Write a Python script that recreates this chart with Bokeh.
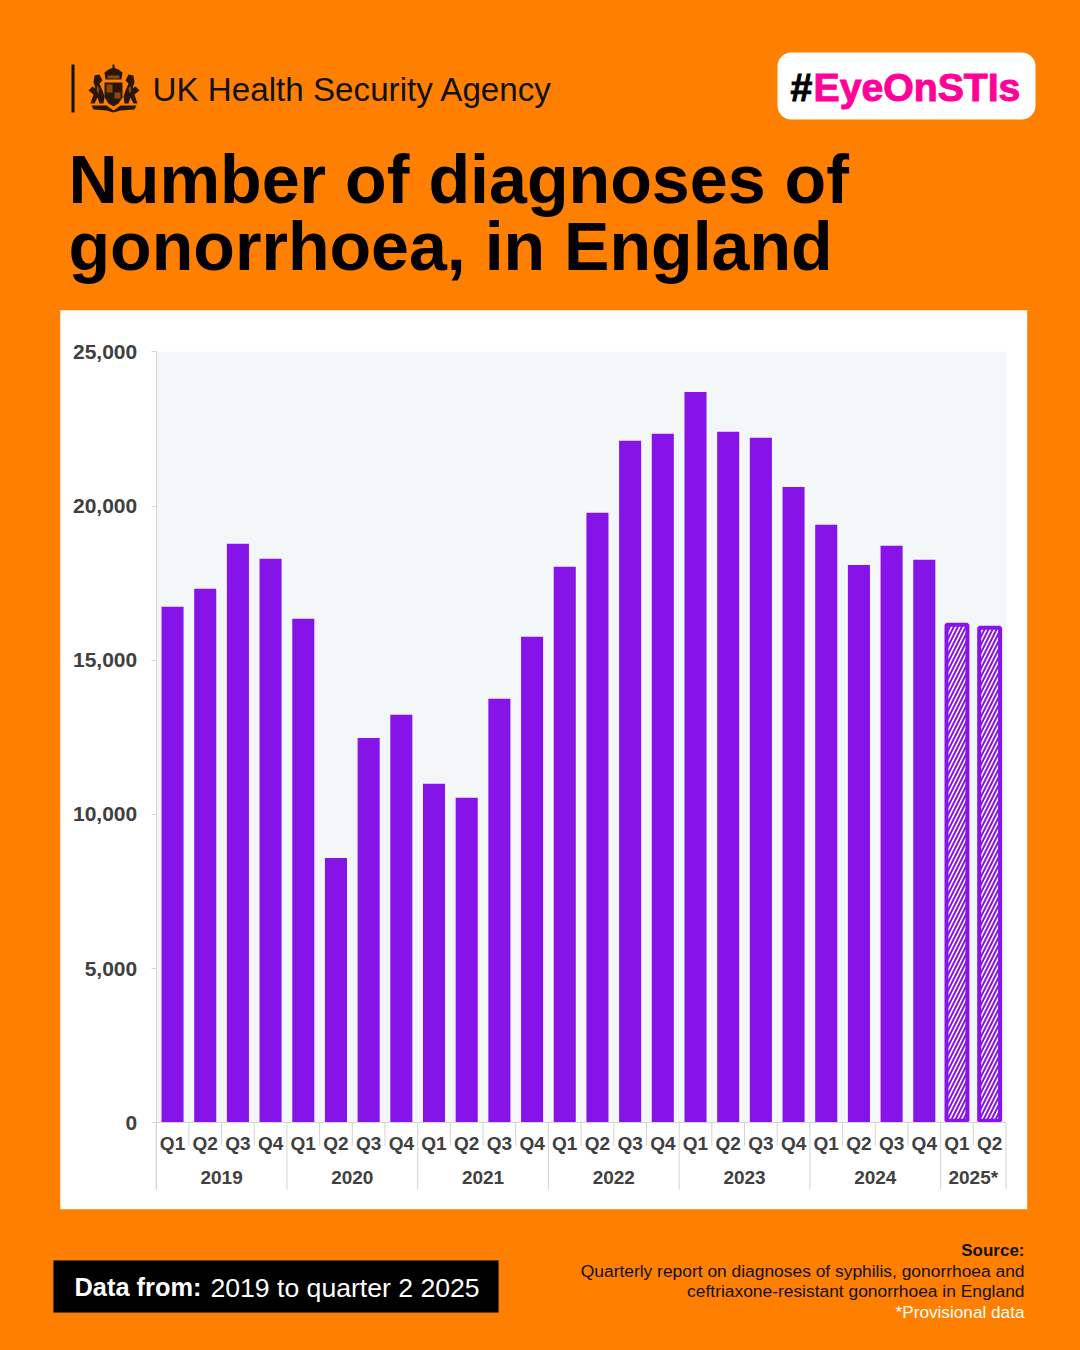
from bokeh.plotting import figure
from bokeh.models import BoxAnnotation, Label, Range1d, FixedTicker, NumeralTickFormatter, LinearAxis, PolyAnnotation
from bokeh.core.properties import value
from bokeh.embed import file_html
from bokeh.resources import INLINE

years = ["2019", "2020", "2021", "2022", "2023", "2024", "2025*"]
quarters = [["Q1", "Q2", "Q3", "Q4"]] * 6 + [["Q1", "Q2"]]
values = [16730, 17315, 18775, 18290, 16340, 8590, 12480, 13230, 10990, 10540, 13750, 15760,
          18030, 19780, 22115, 22340, 23700, 22405, 22210, 20620, 19390, 18090, 18710, 18255]
provisional = [16150, 16050]
y_ticks = [0, 5000, 10000, 15000, 20000, 25000]

ORANGE, PURPLE, BG, INK, GRID = "#FF8000", "#8614E8", "#F4F7F8", "#404040", "#D2D4D6"
W, H = 1080, 1350
FONT = "Liberation Sans"
# pixel frame of the plot inside the artwork
L, R, T, B = 155.7, 1005.5, 351.3, 1122.3
labels = [q for qs in quarters for q in qs]
N = len(labels)
XPX = N / (R - L)
YPX = 25000 / (B - T)

p = figure(width=W, height=H, output_backend="svg", toolbar_location=None,
           x_range=Range1d(-L * XPX, N + (W - R) * XPX),
           y_range=Range1d(-(H - B) * YPX, 25000 + T * YPX),
           min_border_left=0, min_border_right=0, min_border_top=0, min_border_bottom=0,
           x_axis_type=None, y_axis_type=None,
           border_fill_color=ORANGE, background_fill_color=ORANGE, outline_line_color=None)
p.grid.visible = False


def box(l, t, r, b, **kw):
    b_ = BoxAnnotation(left=l, right=r, top=H - t, bottom=H - b, left_units="screen", right_units="screen",
                       top_units="screen", bottom_units="screen", **kw)
    p.add_layout(b_)
    return b_


def poly(pts, color, alpha=1):
    p.add_layout(PolyAnnotation(xs=[a for a, _ in pts], ys=[H - b for _, b in pts], xs_units="screen",
                                ys_units="screen", fill_color=color, fill_alpha=alpha, line_color=None))


def text(x, y, s, size, color="#000000", style="normal", align="left", font=FONT, **kw):
    # Label's alphabetic baseline sits about 0.37 em lower than asked for
    p.add_layout(Label(x=x, y=H - y + 0.37 * size, x_units="screen", y_units="screen", text=s, text_font=font,
                       text_font_size=f"{size}px", text_color=color, text_font_style=style, text_align=align,
                       text_baseline="alphabetic", **kw))


box(59.7, 309.7, 1026.7, 1208.7, fill_color="#FFFFFF", fill_alpha=1, line_color=None, level="underlay")
p.add_layout(BoxAnnotation(left=0, right=N, bottom=0, top=25000, fill_color=BG, fill_alpha=1, line_color=None,
                           level="underlay"))

# separators: short between quarters, long between years
xs = [i + 0.5 for i in range(N)]
sep_x, sep_y, year_x, pos = [], [], [], 0
for qs in quarters:
    for j in range(len(qs)):
        sep_x.append(pos + j)
        sep_y.append(-67 * YPX if j == 0 else -23 * YPX)
    year_x.append(pos + len(qs) / 2)
    pos += len(qs)
sep_x.append(pos); sep_y.append(-67 * YPX)
p.segment(x0=sep_x, x1=sep_x, y0=[0] * len(sep_x), y1=sep_y, line_color=GRID, line_width=1)

n = len(values)
p.vbar(x=xs[:n], top=values, width=0.675, fill_color=PURPLE, line_color=None)
p.vbar(x=xs[n:], top=provisional, bottom=2 * YPX, width=0.64, fill_color="#FFFFFF", line_color=PURPLE, line_width=4,
       hatch_pattern="right_diagonal_line", hatch_color=PURPLE, hatch_weight=2, hatch_scale=8)
p.text(x=year_x, y=[-55 * YPX] * len(years), text=years, text_font=value(FONT), text_font_style="bold",
       text_font_size="19px", text_color=INK, text_align="center", text_baseline="middle")

ax = LinearAxis(ticker=FixedTicker(ticks=xs), fixed_location=0, bounds=(0, N),
                major_label_overrides={x: q for x, q in zip(xs, labels)})
ax.axis_line_color = GRID
ax.major_tick_line_color = None
ax.minor_tick_line_color = None
ax.major_label_text_font = FONT
ax.major_label_text_font_style = "bold"
ax.major_label_text_font_size = "19px"
ax.major_label_text_color = INK
ax.major_label_standoff = 4
p.add_layout(ax, "below")

ya = LinearAxis(ticker=FixedTicker(ticks=y_ticks), fixed_location=0, bounds=(-67 * YPX, 25000),
                formatter=NumeralTickFormatter(format="0,0"))
ya.axis_line_color = GRID
ya.major_tick_line_color = GRID
ya.major_tick_out = 5
ya.major_tick_in = 0
ya.minor_tick_line_color = None
ya.major_label_text_font = FONT
ya.major_label_text_font_style = "bold"
ya.major_label_text_font_size = "21px"
ya.major_label_text_color = INK
ya.major_label_standoff = 14
p.add_layout(ya, "left")

# header
box(71, 64, 74, 112, fill_color="#111111", fill_alpha=1, line_color=None)
text(152, 101, "UK Health Security Agency", 33.2, "#111111")
text(68, 204, "Number of diagnoses of", 68.2, style="bold")
text(68, 271, "gonorrhoea, in England", 68.1, style="bold")

# simplified crest: crown, shield, two lions, motto ribbon
DARK, MID = "#2A1608", "#8A4A08"
poly([(112, 64), (114, 64), (114, 68), (112, 68)], DARK)
poly([(105, 79), (104, 72), (108, 69), (113, 67), (118, 69), (122, 72), (121, 79)], DARK)
poly([(107, 75), (119, 75), (119, 78), (107, 78)], MID)
poly([(104, 82), (122, 82), (122, 97), (118, 103), (113, 106), (108, 103), (104, 97)], DARK)
poly([(106, 84), (112, 84), (112, 92), (106, 92)], MID)
poly([(114, 92), (120, 92), (120, 98), (114, 98)], MID)
for m in (0, 1):
    f = (lambda x: x) if m == 0 else (lambda x: 227 - x)
    poly([(f(94), 75), (f(99), 74), (f(102), 80), (f(99), 83), (f(102), 90), (f(104), 96), (f(103), 103), (f(99), 103),
          (f(97), 97), (f(94), 103), (f(90), 103), (f(93), 94), (f(88), 90), (f(92), 86), (f(95), 88), (f(93), 82)], DARK)
    poly([(f(97), 85), (f(99), 88), (f(98), 93), (f(96), 90)], MID)
poly([(91, 105), (106, 105), (113, 110), (120, 105), (136, 105), (134, 109), (120, 110), (113, 112), (106, 110), (93, 109)], DARK)

# hashtag badge
MAGENTA = "#FF0099"
box(777, 52, 1035, 119, fill_color="#FFFFFF", fill_alpha=1, line_color=None, border_radius=14)
text(790, 102, "#", 39.2, style="bold", text_outline_color="#000000")
text(813, 102, "EyeOnSTIs", 39.2, MAGENTA, style="bold", text_outline_color=MAGENTA)

# footer
box(53, 1260, 498, 1312, fill_color="#000000", fill_alpha=1, line_color="#1C3A2A", line_width=1)
text(74, 1296, "Data from:", 25.4, "#FFFFFF", style="bold")
text(210, 1297, "2019 to quarter 2 2025", 26.6, "#FFFFFF")
text(1024, 1256, "Source:", 17, "#111111", style="bold", align="right")
text(1024, 1277, "Quarterly report on diagnoses of syphilis, gonorrhoea and", 17.4, "#111111", align="right")
text(1024, 1297, "ceftriaxone-resistant gonorrhoea in England", 17.4, "#111111", align="right")
text(1024, 1318, "*Provisional data", 17.2, "#FFFFFF", align="right")

html = file_html(p, INLINE)
html = html.replace("<head>", "<head><style>html,body{background:#FF8000;}</style>", 1)
open("out.html", "w").write(html)
